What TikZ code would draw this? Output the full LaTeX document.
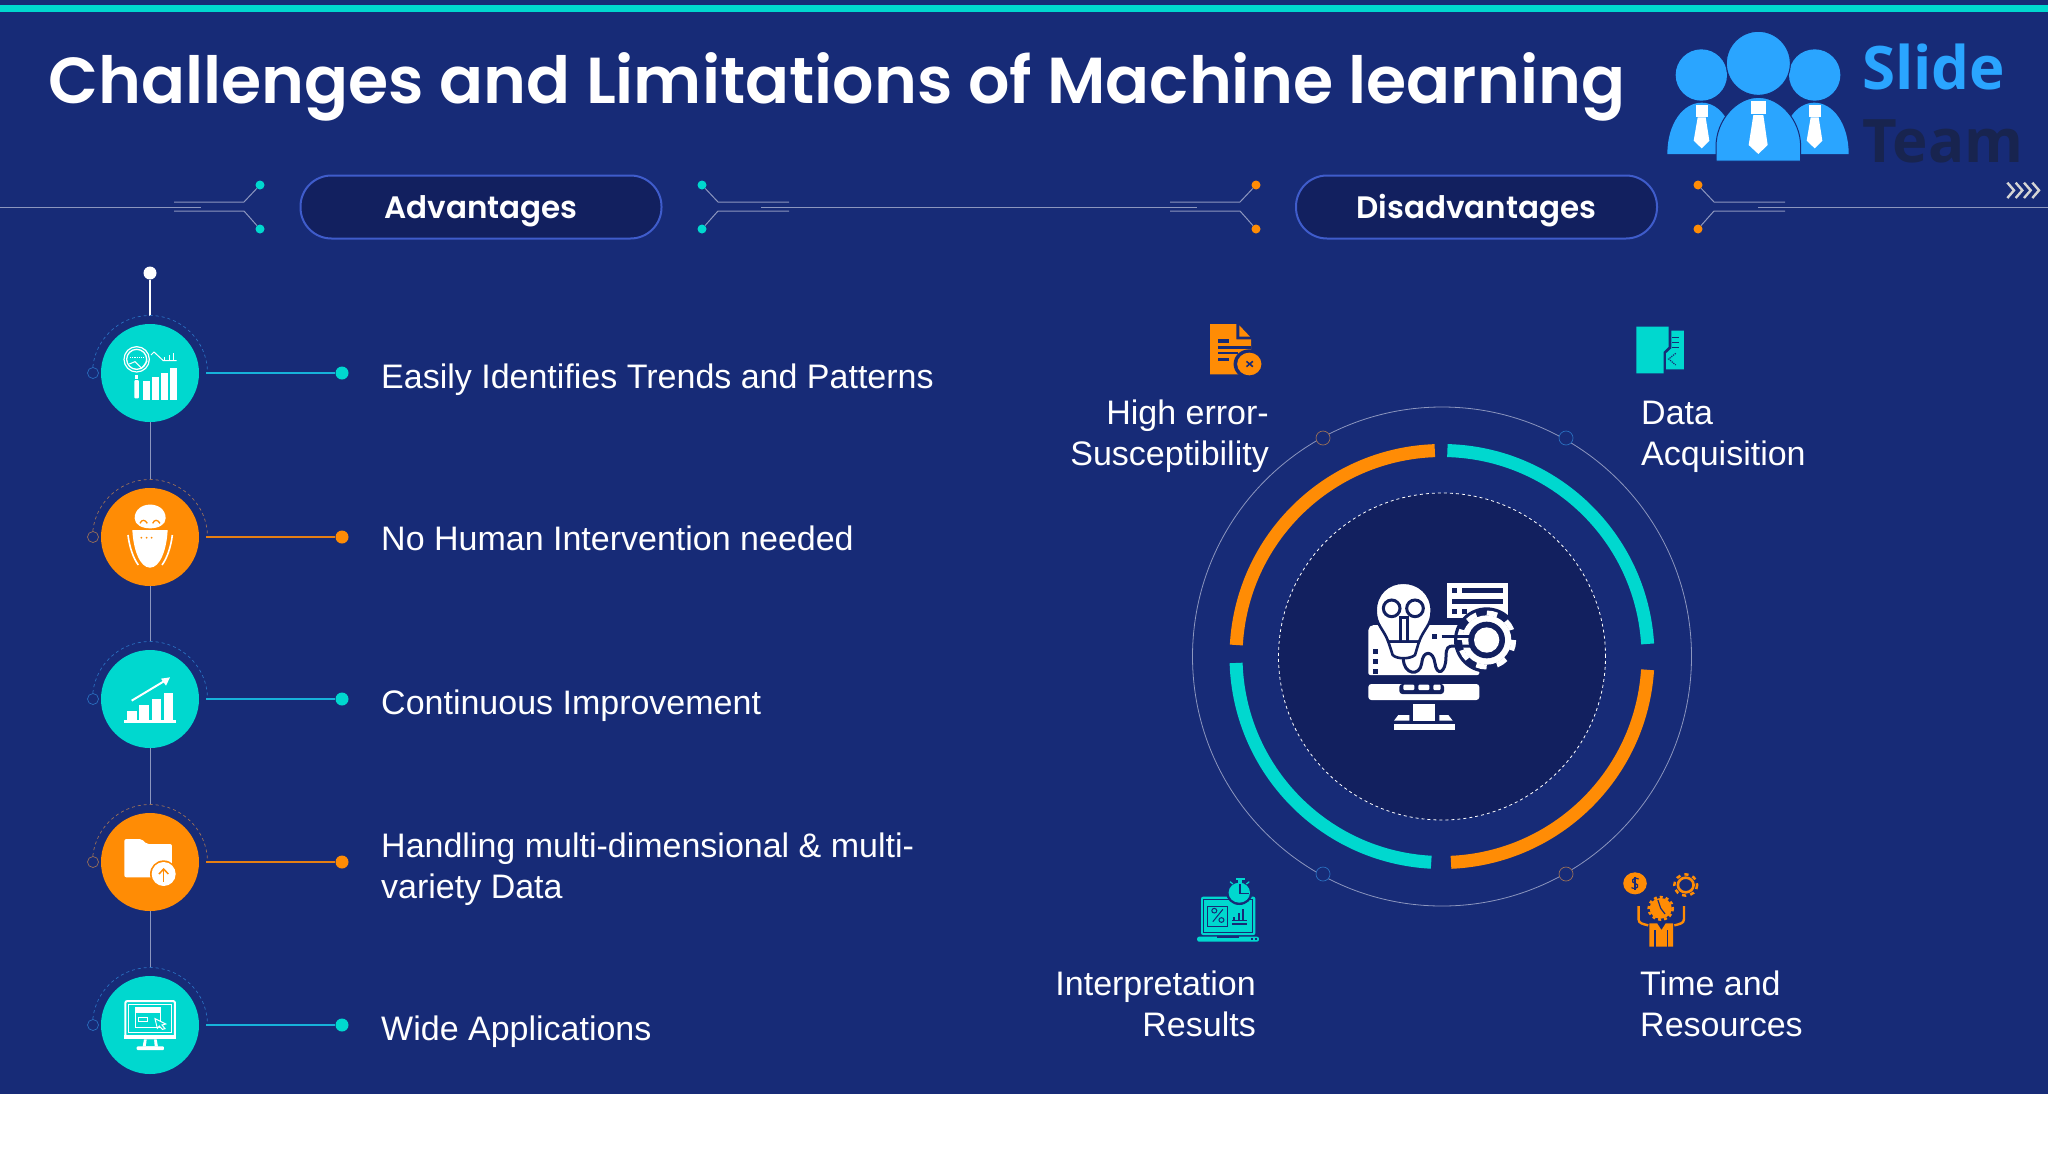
\documentclass[tikz,border=0pt]{standalone}
\usepackage{fontspec}
\setmainfont{Liberation Sans}
\newfontfamily\headfont{Poppins}[BoldFont={* SemiBold}]
\newfontfamily\logofont{Open Sans}
\usetikzlibrary{positioning}
\definecolor{navym}{HTML}{172B77}
\definecolor{deepm}{HTML}{12205F}
\definecolor{cyanm}{HTML}{00D8CF}
\definecolor{orgm}{HTML}{FF8C05}
\definecolor{skym}{HTML}{2AA5FF}
\definecolor{wirem}{HTML}{8C96BE}
\definecolor{edgem}{HTML}{3F5CCB}
\definecolor{tiecm}{HTML}{17B2DA}
\definecolor{tieom}{HTML}{E67F12}
\definecolor{arcbm}{HTML}{2A6FBF}
\definecolor{arcom}{HTML}{9A7058}
\definecolor{teamm}{HTML}{18244F}
\definecolor{chevm}{HTML}{D4D4D4}

\begin{document}
\begin{tikzpicture}[x=1pt,y=-1pt,
                        railc/.style={circle, fill=cyanm, minimum size=98pt, inner sep=0pt},
                        railo/.style={circle, fill=orgm, minimum size=98pt, inner sep=0pt},
                        dotc/.style={circle, fill=cyanm, minimum size=13pt, inner sep=0pt},
                        doto/.style={circle, fill=orgm, minimum size=13pt, inner sep=0pt},
                        pinc/.style={circle, fill=cyanm, minimum size=9pt, inner sep=0pt},
                        pino/.style={circle, fill=orgm, minimum size=9pt, inner sep=0pt},
                        knobb/.style={circle, draw=arcbm, fill=navym, minimum size=11pt, inner sep=0pt, line width=.7pt},
                        knobo/.style={circle, draw=arcom, fill=navym, minimum size=11pt, inner sep=0pt, line width=.7pt},
                        wire/.style={draw=wirem, line width=1pt},
                        pill/.style={draw=edgem, fill=deepm, line width=2pt, rounded corners=31pt, minimum width=361pt, minimum height=63pt, text=white, text height=23pt, text depth=0pt, font=\headfont\bfseries\fontsize{31}{35}\selectfont},
                        item/.style={anchor=base west, inner sep=0pt, text=white, font=\fontsize{34}{41}\selectfont},
                        itemr/.style={anchor=base east, inner sep=0pt, text=white, align=right, font=\fontsize{34}{41}\selectfont},
                        iteml/.style={anchor=base west, inner sep=0pt, text=white, align=left, font=\fontsize{34}{41}\selectfont},
                        zoomA/.style={x=.33333pt,y=-.33333pt},
                        zoomB/.style={x=.35714pt,y=-.33333pt}]
                    \useasboundingbox (0,0) rectangle (2048,1152);
                    \fill[white] (0,0) rectangle (2048,1152);
                    \fill[navym] (0,0) rectangle (2048,1094);
                    \fill[cyanm] (0,5) rectangle (2048,12);
                    \node[anchor=base west, inner sep=0pt, text=white, font=\headfont\bfseries\fontsize{65}{72}\selectfont] (title) at (48,103) {Challenges and Limitations of Machine learning};

                    \coordinate (h0) at (0,207);
                    \coordinate (h1) at (201,207);
                    \coordinate (h2) at (761,207);
                    \coordinate (h3) at (1197,207);
                    \coordinate (h4) at (1758,207);
                    \coordinate (h5) at (2048,207);
                    \draw[wire] (h0) -- (h1);
                    \draw[wire] (h2) -- (h3);
                    \draw[wire] (h4) -- (h5);
                    \node[pill] (adv) at (481,207) {Advantages};
                    \node[pill] (dis) at (1476.5,207) {Disadvantages};

                    \node[pinc] (pa1) at (260,185) {};
                    \node[pinc] (pa2) at (260,229) {};
                    \node[pinc] (pa3) at (702,185) {};
                    \node[pinc] (pa4) at (702,229) {};
                    \node[pino] (pd1) at (1256,185) {};
                    \node[pino] (pd2) at (1256,229) {};
                    \node[pino] (pd3) at (1698,185) {};
                    \node[pino] (pd4) at (1698,229) {};
                    \coordinate (ka1) at (174,202);
                    \coordinate (kb1) at (244,202);
                    \coordinate (ka2) at (174,211);
                    \coordinate (kb2) at (244,211);
                    \coordinate (ka3) at (789,202);
                    \coordinate (kb3) at (718,202);
                    \coordinate (ka4) at (789,211);
                    \coordinate (kb4) at (718,211);
                    \coordinate (kc1) at (1170,202);
                    \coordinate (kd1) at (1240,202);
                    \coordinate (kc2) at (1170,211);
                    \coordinate (kd2) at (1240,211);
                    \coordinate (kc3) at (1785,202);
                    \coordinate (kd3) at (1714,202);
                    \coordinate (kc4) at (1785,211);
                    \coordinate (kd4) at (1714,211);
                    \draw[wire] (ka1) -- (kb1) -- (pa1);
                    \draw[wire] (ka2) -- (kb2) -- (pa2);
                    \draw[wire] (ka3) -- (kb3) -- (pa3);
                    \draw[wire] (ka4) -- (kb4) -- (pa4);
                    \draw[wire] (kc1) -- (kd1) -- (pd1);
                    \draw[wire] (kc2) -- (kd2) -- (pd2);
                    \draw[wire] (kc3) -- (kd3) -- (pd3);
                    \draw[wire] (kc4) -- (kd4) -- (pd4);

                    \begin{scope}[shift={(1640,0)},zoomA]
                    \draw[chevm, line width=2.4pt] (1102,548) -- (1122,571) -- (1102,594);
                    \draw[chevm, line width=2.4pt] (1127,548) -- (1147,571) -- (1127,594);
                    \draw[chevm, line width=2.4pt] (1152,548) -- (1172,571) -- (1152,594);
                    \draw[chevm, line width=2.4pt] (1177,548) -- (1197,571) -- (1177,594);
                    \end{scope}

                    \begin{scope}[shift={(1640,0)},zoomA]
                    \fill[skym] (184,225) circle (77);
                    \fill[skym] (524,225) circle (77);
                    \fill[skym] (82,462) .. controls (82,370) and (130,308) .. (185,308) .. controls (240,308) and (285,370) .. (285,462) -- cycle;
                    \fill[skym] (626,462) .. controls (626,370) and (578,308) .. (523,308) .. controls (468,308) and (423,370) .. (423,462) -- cycle;
                    \filldraw[fill=skym, draw=navym, line width=1pt] (355,190) circle (96);
                    \filldraw[fill=skym, draw=navym, line width=1pt] (228,483) -- (228,440) .. controls (228,360) and (290,292) .. (355,292) .. controls (420,292) and (482,360) .. (482,440) -- (482,483) -- cycle;
                    \fill[white] (333,303) rectangle (377,343);
                    \fill[white] (340,345) -- (370,345) -- (383,435) -- (355,462) -- (326,435) -- cycle;
                    \fill[white] (167,316) rectangle (203,350);
                    \fill[white] (173,352) -- (197,352) -- (208,422) -- (185,445) -- (161,422) -- cycle;
                    \fill[white] (506,316) rectangle (542,350);
                    \fill[white] (512,352) -- (536,352) -- (547,422) -- (524,445) -- (500,422) -- cycle;
                    \end{scope}
                    \node[anchor=base west, inner sep=0pt, text=skym, font=\logofont\bfseries\fontsize{60}{70}\selectfont] (slide) at (1862,89) {Slide};
                    \node[anchor=base west, inner sep=0pt, text=teamm, font=\logofont\bfseries\fontsize{60}{70}\selectfont] (team) at (1862,162) {Team};

                    \node[circle, fill=white, minimum size=13pt, inner sep=0pt] (top) at (150,273) {};
                    \coordinate (cap1) at (150,315.5);
                    \coordinate (cap2) at (150,479.5);
                    \coordinate (cap3) at (150,641.5);
                    \coordinate (cap4) at (150,804.5);
                    \coordinate (cap5) at (150,967.5);
                    \node[railc] (rail1) at (150,373) {};
                    \node[railo] (rail2) at (150,537) {};
                    \node[railc] (rail3) at (150,699) {};
                    \node[railo] (rail4) at (150,862) {};
                    \node[railc] (rail5) at (150,1025) {};
                    \draw[white, line width=2pt] (top) -- (cap1);
                    \draw[wire] (rail1) -- (cap2);
                    \draw[wire] (rail2) -- (cap3);
                    \draw[wire] (rail3) -- (cap4);
                    \draw[wire] (rail4) -- (cap5);
                    \draw[arcbm, dashed, line width=.7pt] (92.5,373) arc (180:360:57.5);
                    \draw[arcom, dashed, line width=.7pt] (92.5,537) arc (180:360:57.5);
                    \draw[arcbm, dashed, line width=.7pt] (92.5,699) arc (180:360:57.5);
                    \draw[arcom, dashed, line width=.7pt] (92.5,862) arc (180:360:57.5);
                    \draw[arcbm, dashed, line width=.7pt] (92.5,1025) arc (180:360:57.5);
                    \node[knobb] (ball1) at (93,373) {};
                    \node[knobo] (ball2) at (93,537) {};
                    \node[knobb] (ball3) at (93,699) {};
                    \node[knobo] (ball4) at (93,862) {};
                    \node[knobb] (ball5) at (93,1025) {};
                    \coordinate (tail1) at (206,373);
                    \coordinate (tail2) at (206,537);
                    \coordinate (tail3) at (206,699);
                    \coordinate (tail4) at (206,862);
                    \coordinate (tail5) at (206,1025);
                    \node[dotc] (dot1) at (342,373) {};
                    \node[doto] (dot2) at (342,537) {};
                    \node[dotc] (dot3) at (342,699) {};
                    \node[doto] (dot4) at (342,862) {};
                    \node[dotc] (dot5) at (342,1025) {};
                    \draw[tiecm, line width=2pt] (tail1) -- (dot1);
                    \draw[tieom, line width=2pt] (tail2) -- (dot2);
                    \draw[tiecm, line width=2pt] (tail3) -- (dot3);
                    \draw[tieom, line width=2pt] (tail4) -- (dot4);
                    \draw[tiecm, line width=2pt] (tail5) -- (dot5);

                    \node[item] (text1) at (381,388) {Easily Identifies Trends and Patterns};
                    \node[item] (text2) at (381,550) {No Human Intervention needed};
                    \node[item] (text3) at (381,714) {Continuous Improvement};
                    \node[iteml] (text4) at (381,898) {Handling multi-dimensional \& multi-\\variety Data};
                    \node[item] (text5) at (381,1040) {Wide Applications};

                    \begin{scope}[shift={(0,240)},zoomA]
                    \draw[white, line width=1.2pt] (410,358) circle (38);
                    \draw[white, line width=1.3pt] (410,358) circle (30);
                    \draw[white, line width=1.2pt, densely dotted] (390,352) -- (432,352);
                    \draw[white, line width=1pt] (388,372) -- (405,365) -- (425,385) -- (442,362);
                    \fill[white] (405,405) rectangle (415,417);
                    \fill[white, rounded corners=1pt] (403,420) rectangle (417,475);
                    \fill[white] (430,422) rectangle (450,481);
                    \fill[white] (457,412) rectangle (477,481);
                    \fill[white] (483,400) rectangle (503,481);
                    \fill[white] (510,385) rectangle (530,481);
                    \draw[white, line width=1pt] (453,345) -- (462,336) -- (490,362) -- (530,362);
                    \draw[white, line width=1pt] (495,362) -- (495,350);
                    \draw[white, line width=1pt] (510,362) -- (510,346);
                    \draw[white, line width=1pt] (522,362) -- (522,340);
                    \end{scope}

                    \begin{scope}[shift={(0,240)},zoomA]
                    \fill[white] (404,835) .. controls (404,780) and (497,780) .. (497,835) .. controls (497,875) and (404,875) .. (404,835) -- cycle;
                    \draw[orgm, line width=1.3pt] (420,850) .. controls (425,838) and (435,838) .. (442,850);
                    \draw[orgm, line width=1.3pt] (458,850) .. controls (463,838) and (473,838) .. (480,850);
                    \fill[white] (397,870) -- (503,870) .. controls (500,930) and (480,983) .. (450,983) .. controls (420,983) and (400,930) .. (397,870) -- cycle;
                    \fill[orgm] (424,893) circle (3);
                    \fill[orgm] (440,893) circle (3);
                    \fill[orgm] (455,893) circle (3);
                    \draw[white, line width=1.6pt] (384,885) .. controls (388,920) and (400,955) .. (415,975);
                    \draw[white, line width=1.6pt] (517,885) .. controls (513,920) and (501,955) .. (486,975);
                    \end{scope}

                    \begin{scope}[shift={(0,620)},zoomA]
                    \fill[white] (373,300) rectangle (528,308);
                    \fill[white] (382,274) rectangle (410,300);
                    \fill[white] (418,255) rectangle (446,300);
                    \fill[white] (455,237) rectangle (483,300);
                    \fill[white] (492,220) rectangle (518,300);
                    \draw[white, line width=2pt] (395,242) -- (495,182);
                    \fill[white] (510,172) -- (483,176) -- (498,197) -- cycle;
                    \end{scope}

                    \begin{scope}[shift={(0,620)},zoomA]
                    \fill[white, rounded corners=2pt] (373,657) -- (425,657) -- (440,672) -- (516,672) -- (516,772) -- (373,772) -- cycle;
                    \fill[orgm] (491,762) circle (41);
                    \fill[white] (491,762) circle (36);
                    \draw[orgm, line width=1.5pt] (491,785) -- (491,750);
                    \draw[orgm, line width=1.5pt] (477,762) -- (491,747) -- (505,762);
                    \end{scope}

                    \begin{scope}[shift={(0,620)},zoomA]
                    \draw[white, line width=2pt, rounded corners=2pt] (376,1143) rectangle (525,1250);
                    \fill[white] (373,1244) rectangle (528,1258);
                    \draw[white, line width=1pt] (385,1153) -- (516,1153) -- (516,1236) -- (385,1236) -- cycle;
                    \draw[white, line width=1pt] (407,1163) rectangle (483,1222);
                    \fill[white] (407,1163) rectangle (483,1178);
                    \draw[white, line width=1pt] (417,1192) rectangle (442,1205);
                    \filldraw[fill=cyanm, draw=white, line width=1pt] (465,1196) -- (497,1212) -- (486,1215) -- (495,1226) -- (487,1228) -- (478,1218) -- (472,1225) -- cycle;
                    \fill[white] (432,1258) -- (470,1258) -- (474,1280) -- (428,1280) -- cycle;
                    \fill[cyanm] (440,1258) -- (462,1258) -- (464,1278) -- (438,1278) -- cycle;
                    \fill[white, rounded corners=1pt] (410,1279) rectangle (492,1290);
                    \end{scope}

                    \node[circle, draw=wirem, line width=.8pt, minimum size=499pt, inner sep=0pt] (ring) at (1442,656.5) {};
                    \node[circle, fill=deepm, draw=white, dashed, line width=.8pt, minimum size=327pt, inner sep=0pt] (hub) at (1442,656.5) {};
                    \node[knobo, minimum size=14pt] (gem1) at (1323,438) {};
                    \node[knobb, minimum size=14pt] (gem2) at (1566,438) {};
                    \node[knobb, minimum size=14pt] (gem3) at (1323,874) {};
                    \node[knobo, minimum size=14pt] (gem4) at (1566,874) {};
                    \begin{scope}[shift={(1442,656.5)},y=1pt]
                    \draw[orgm, line width=13pt] (176.8:206) arc (176.8:92:206);
                    \draw[cyanm, line width=13pt] (88.5:206) arc (88.5:3.5:206);
                    \draw[orgm, line width=13pt] (-3.7:206) arc (-3.7:-87.5:206);
                    \draw[cyanm, line width=13pt] (-93:206) arc (-93:-178.2:206);
                    \end{scope}

                    \begin{scope}[shift={(1320,560)},zoomA]
                    \fill[white, rounded corners=2pt] (145,205) -- (155,195) -- (478,195) -- (478,345) -- (145,345) -- cycle;
                    \fill[white, rounded corners=3pt] (145,372) rectangle (478,420);
                    \fill[deepm, rounded corners=3pt] (238,372) rectangle (372,402);
                    \fill[white, rounded corners=1pt] (250,374) rectangle (283,390);
                    \fill[white, rounded corners=1pt] (295,374) rectangle (328,390);
                    \fill[white, rounded corners=1pt] (340,374) rectangle (362,390);
                    \fill[deepm] (160,268) rectangle (175,283);
                    \fill[deepm] (160,298) rectangle (175,313);
                    \fill[deepm] (160,328) rectangle (175,343);
                    \fill[deepm] (335,222) rectangle (350,237);
                    \fill[white] (280,432) rectangle (345,482);
                    \fill[white] (235,465) -- (268,465) -- (268,482) -- (222,482) -- cycle;
                    \fill[white] (358,465) -- (385,465) -- (398,482) -- (358,482) -- cycle;
                    \fill[white] (222,492) rectangle (405,510);
                    \fill[white] (380,70) rectangle (563,175);
                    \fill[deepm] (395,85) rectangle (410,100);
                    \fill[deepm] (425,85) rectangle (548,100);
                    \fill[deepm] (395,117) rectangle (548,132);
                    \fill[deepm] (395,147) rectangle (410,162);
                    \fill[deepm] (425,147) rectangle (440,162);
                    \fill[deepm] (475,147) rectangle (530,162);
                    \fill[deepm] (500,240) circle (98);
                    \fill[white] (500,240) circle (74);
                    \draw[white, line width=5pt, dash pattern=on 10.6pt off 10.6pt] (500,240) circle (81);
                    \fill[deepm] (500,240) circle (55);
                    \fill[white] (500,240) circle (38);
                    \filldraw[fill=white, draw=deepm, line width=2.6pt] (205,245) .. controls (190,205) and (167,195) .. (167,152) .. controls (167,100) and (205,68) .. (250,68) .. controls (295,68) and (335,100) .. (335,152) .. controls (335,195) and (312,205) .. (297,245) -- cycle;
                    \draw[deepm, line width=3pt] (215,145) circle (25);
                    \draw[deepm, line width=3pt] (285,145) circle (25);
                    \draw[deepm, line width=3pt] (240,168) -- (240,245);
                    \draw[deepm, line width=3pt] (262,168) -- (262,245);
                    \draw[deepm, line width=3pt] (240,172) -- (262,172);
                    \filldraw[fill=white, draw=deepm, line width=2.6pt] (205,245) -- (297,245) -- (285,285) .. controls (270,298) and (230,298) .. (218,285) -- cycle;
                    \draw[deepm, line width=3pt] (250,295) .. controls (250,345) and (300,350) .. (305,310) .. controls (308,270) and (340,270) .. (345,310) .. controls (350,350) and (378,340) .. (378,290) .. controls (378,262) and (385,258) .. (400,258) -- (450,258);
                    \draw[deepm, line width=3pt] (365,230) -- (450,230);
                    \end{scope}

                    \begin{scope}[shift={(1150,300)},zoomB]
                    \fill[orgm] (168,72) -- (242,72) -- (242,118) -- (283,118) -- (283,223) -- (168,223) -- cycle;
                    \fill[orgm] (250,76) -- (250,110) -- (280,110) -- cycle;
                    \fill[navym] (190,118) rectangle (222,128);
                    \fill[navym] (190,137) rectangle (283,146);
                    \fill[navym] (190,155) rectangle (245,163);
                    \fill[navym] (190,173) rectangle (222,182);
                    \fill[navym] (278,192) circle (44);
                    \fill[orgm] (278,192) circle (34);
                    \draw[navym, line width=1.6pt] (270,184) -- (288,200);
                    \draw[navym, line width=1.6pt] (288,184) -- (270,200);
                    \end{scope}

                    \begin{scope}[shift={(1150,300)},zoomB]
                    \fill[cyanm] (1362,80) -- (1452,80) -- (1452,140) -- (1438,155) -- (1438,220) -- (1362,220) -- cycle;
                    \fill[cyanm] (1460,92) -- (1495,92) -- (1495,208) -- (1445,208) -- (1445,160) -- (1460,145) -- cycle;
                    \fill[navym] (1462,110) rectangle (1482,115);
                    \fill[navym] (1462,125) rectangle (1482,130);
                    \fill[navym] (1462,140) rectangle (1482,145);
                    \draw[navym, line width=1.2pt, densely dotted] (1472,160) -- (1452,177) -- (1472,195);
                    \end{scope}

                    \begin{scope}[shift={(1150,840)},zoomB]
                    \fill[cyanm, rounded corners=2pt] (143,170) rectangle (295,285);
                    \draw[navym, line width=.8pt] (150,178) rectangle (288,278);
                    \draw[navym, line width=1pt] (162,198) rectangle (218,258);
                    \draw[navym, line width=1pt] (176,245) -- (204,208);
                    \draw[navym, line width=1pt] (180,212) circle (7);
                    \draw[navym, line width=1pt] (200,240) circle (7);
                    \fill[navym] (232,232) rectangle (238,240);
                    \fill[navym] (245,220) rectangle (251,240);
                    \fill[navym] (258,208) rectangle (264,240);
                    \fill[navym] (230,240) rectangle (272,244);
                    \fill[navym] (230,250) rectangle (272,254);
                    \fill[cyanm, rounded corners=2pt] (132,290) rectangle (305,305);
                    \fill[navym] (188,287) rectangle (248,293);
                    \fill[navym] (282,295) rectangle (288,300);
                    \fill[navym] (294,295) rectangle (300,300);
                    \fill[navym] (250,158) circle (37);
                    \fill[cyanm] (250,158) circle (30);
                    \fill[navym] (250,132) rectangle (255,163);
                    \fill[navym] (250,158) rectangle (276,163);
                    \fill[cyanm] (240,113) rectangle (266,120);
                    \fill[cyanm] (247,120) rectangle (258,128);
                    \draw[cyanm, line width=1.2pt] (224,125) -- (232,132);
                    \draw[cyanm, line width=1.2pt] (278,125) -- (270,132);
                    \end{scope}

                    \begin{scope}[shift={(1150,840)},zoomB]
                    \fill[orgm] (1358,130) circle (33);
                    \draw[navym, line width=1.2pt] (1368,117) .. controls (1350,108) and (1345,128) .. (1358,130) .. controls (1372,133) and (1366,152) .. (1348,143);
                    \draw[navym, line width=1.2pt] (1358,110) -- (1358,150);
                    \draw[orgm, line width=2.6pt] (1500,135) circle (22);
                    \draw[orgm, line width=2.5pt, dash pattern=on 4.2pt off 4.2pt] (1500,135) circle (32);
                    \fill[orgm] (1430,205) circle (31);
                    \draw[orgm, line width=2.5pt, dash pattern=on 3pt off 3pt] (1430,205) circle (34);
                    \draw[navym, line width=1.2pt] (1422,180) -- (1430,205) -- (1442,222);
                    \draw[orgm, line width=2.4pt] (1368,198) -- (1368,238) .. controls (1368,250) and (1380,252) .. (1395,256);
                    \draw[orgm, line width=2.4pt] (1495,198) -- (1495,238) .. controls (1495,250) and (1483,252) .. (1468,256);
                    \fill[orgm] (1398,250) -- (1420,250) -- (1432,270) -- (1444,250) -- (1465,250) -- (1465,320) -- (1398,320) -- cycle;
                    \fill[navym] (1412,270) rectangle (1416,320);
                    \fill[navym] (1447,270) rectangle (1451,320);
                    \end{scope}

                    \node[itemr] (err) at (1269,465) {High error-\\Susceptibility};
                    \node[iteml] (acq) at (1641,465) {Data\\Acquisition};
                    \node[itemr] (res) at (1256,1036) {Interpretation\\Results};
                    \node[iteml] (tim) at (1640,1036) {Time and\\Resources};
\end{tikzpicture}
\end{document}
